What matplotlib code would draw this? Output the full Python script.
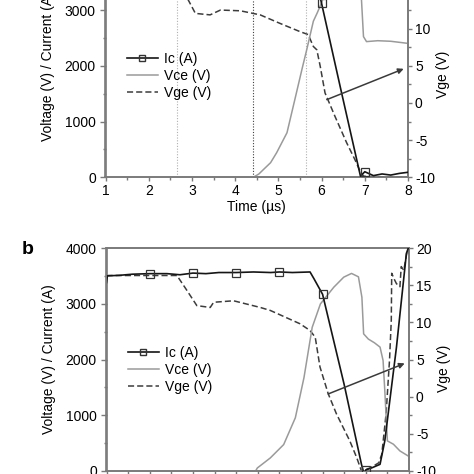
import numpy as np
import matplotlib
matplotlib.use("Agg")
import matplotlib.pyplot as plt
from matplotlib.ticker import MultipleLocator
from matplotlib.lines import Line2D

plt.rcParams['font.family'] = ['Liberation Sans', 'DejaVu Sans']
plt.rcParams['font.size'] = 10

# ---------------- data: panel a ----------------
a_ic_t = [1.0, 1.5, 2, 2.5, 3, 3.5, 4, 4.5, 5, 5.5, 5.88, 6.0, 6.45, 6.9, 6.95, 7.0, 7.2, 7.4, 7.6, 7.8, 8.0]
a_ic = [3500, 3530, 3520, 3510, 3540, 3520, 3530, 3520, 3540, 3530, 3520, 3120, 1560, 20, 60, 100, 30, 60, 40, 70, 90]

a_vce_t = [1, 4.42, 4.55, 4.66, 4.82, 4.96, 5.2, 5.38, 5.55, 5.66, 5.81, 5.9, 6.01, 6.2, 6.4, 6.6,
           6.8, 6.88, 6.97, 7.04, 7.3, 7.6, 7.97, 8.0]
a_vce = [0, 0, 60, 143, 262, 441, 800, 1390, 1950, 2300, 2800, 2950, 3150, 3600, 3900, 4100,
         4000, 3800, 2523, 2434, 2450, 2440, 2405, 2400]

a_vge_t = [1, 2.65, 2.8, 2.92, 3.08, 3.42, 3.66, 4.12, 4.58, 5.04, 5.5, 5.69, 5.81, 5.89, 5.97,
           6.08, 6.31, 6.58, 6.77, 6.89, 6.97, 7.5, 8.0]
a_vge = [16.2, 16.2, 15.0, 13.8, 12.05, 11.85, 12.5, 12.4, 11.85, 10.7, 9.6, 9.2, 7.6, 7.15, 4.9,
         1.35, -1.8, -5.35, -7.6, -9.15, -9.85, -10, -10]

a_vlines = [2.65, 4.42, 5.65]

# ---------------- data: panel b ----------------
b_ic_t = [1.0, 1.02, 1.3, 1.6, 2, 2.4, 2.7, 3, 3.3, 3.6, 4, 4.4, 4.8, 5, 5.3, 5.71, 5.8, 6.0,
          6.5, 6.9, 6.96, 7.0, 7.15, 7.33, 7.44, 7.71, 7.94, 7.98]
b_ic = [3380, 3500, 3510, 3530, 3540, 3540, 3520, 3550, 3540, 3560, 3560, 3570, 3560, 3570, 3560,
        3570, 3450, 3170, 1550, 120, -60, 20, 60, 120, 540, 2222, 3904, 3990]

b_vce_t = [1, 4.45, 4.49, 4.79, 5.1, 5.37, 5.57, 5.76, 5.95, 6.26, 6.49, 6.67, 6.83, 6.91, 6.95,
           7.06, 7.2, 7.33, 7.40, 7.44, 7.50, 7.64, 7.79, 7.98, 8.0]
b_vce = [0, 0, 54, 234, 474, 955, 1676, 2577, 2997, 3297, 3477, 3544, 3483, 3117, 2460,
         2366, 2300, 2222, 1982, 1441, 540, 480, 360, 270, 260]

b_vge_t = [1, 2.63, 2.86, 3.09, 3.4, 3.48, 3.94, 4.56, 4.79, 5.48, 5.71, 5.83, 5.94, 6.13, 6.32,
           6.63, 6.79, 6.90, 7.1, 7.3, 7.37, 7.47, 7.55, 7.59, 7.60, 7.65, 7.71, 7.79, 7.82, 7.88,
           7.96, 8.0]
b_vge = [16.3, 16.3, 14.3, 12.25, 12.0, 12.7, 12.9, 12.0, 11.6, 9.8, 8.9, 8.0, 4.0, 0.4, -2.3,
         -5.95, -8.2, -10, -9.6, -8.9, -7.75, -2.3, 5.0, 10.25, 16.6, 15.9, 15.2, 14.8, 17.5, 17.0,
         19.7, 19.25]

marker_times = [2, 3, 4, 5, 6, 7]
arrow_a = [(6.12, 1393), (7.9, 1946)]
arrow_b = [(6.13, 1382), (7.9, 1930)]

legend_labels = ["Ic (A)", "Vce (V)", "Vge (V)"]
x_ticks = [1, 2, 3, 4, 5, 6, 7, 8]
a_left_ticks = [0, 1000, 2000, 3000]
a_right_ticks = [-10, -5, 0, 5, 10]
b_left_ticks = [0, 1000, 2000, 3000, 4000]
b_right_ticks = [-10, -5, 0, 5, 10, 15, 20]

# ---------------- figure ----------------
fig = plt.figure(figsize=(4.74, 4.74), dpi=100)
W = H = 474.0
SPINE = '#7a7a7a'
IC_C = '#151515'
VCE_C = '#9a9a9a'
VGE_C = '#3c3c3c'
FS = 10


def make_panel(left_px, right_px, zero_px, ic_t, ic, vce_t, vce, vge_t, vge, arrow,
               left_ticks, right_ticks, vlines=None, show_xlabels=True):
    height_px = 223.0
    ax = fig.add_axes([left_px / W, (H - zero_px) / H, (right_px - left_px) / W, height_px / H])
    ax2 = ax.twinx()
    ax.set_xlim(1, 8)
    ax.set_ylim(0, 4000)
    ax2.set_ylim(-10, 20)
    ax.set_zorder(ax2.get_zorder() + 1)
    ax.patch.set_visible(False)

    if vlines:
        cols = ['#b0b0b0', '#404040', '#b0b0b0']
        for xv, c in zip(vlines, cols):
            ax.axvline(xv, color=c, lw=0.8, ls=(0, (1, 1.5)), zorder=1)

    idx = [i for i, t in enumerate(ic_t) if t in marker_times]
    ax.plot(vce_t, vce, color=VCE_C, lw=1.1, zorder=2)
    ax2.plot(vge_t, vge, color=VGE_C, lw=1.1, ls=(0, (4, 2)), zorder=3)
    ax.plot(ic_t, ic, color=IC_C, lw=1.2, marker='s', markevery=idx, ms=6,
            mfc='none', mec='#333333', mew=0.9, zorder=4)

    ax.annotate('', xy=arrow[1], xytext=arrow[0],
                arrowprops=dict(arrowstyle='-|>', color='#3a3a3a', lw=1.1,
                                mutation_scale=8, shrinkA=0, shrinkB=0), zorder=5)

    for a in (ax, ax2):
        for s in a.spines.values():
            s.set_color(SPINE)
            s.set_linewidth(1.2)
    ax.set_xticks(x_ticks)
    ax.xaxis.set_minor_locator(MultipleLocator(0.5))
    ax.set_yticks(left_ticks)
    ax.yaxis.set_minor_locator(MultipleLocator(500))
    ax2.set_yticks(right_ticks)
    ax2.set_yticklabels([str(v) for v in right_ticks])
    ax2.yaxis.set_minor_locator(MultipleLocator(2.5))
    ax.tick_params(axis='y', which='major', direction='out', length=4, width=1, color=SPINE,
                   pad=3, labelsize=FS)
    ax.tick_params(axis='y', which='minor', direction='out', length=2.5, width=1, color=SPINE)
    ax.tick_params(axis='x', which='major', direction='out', length=3, width=1, color=SPINE,
                   pad=1.5, labelsize=FS, labelbottom=show_xlabels)
    ax.tick_params(axis='x', which='minor', direction='out', length=2, width=1, color=SPINE)
    ax2.tick_params(axis='y', which='major', direction='out', length=3, width=1, color=SPINE,
                    pad=2, labelsize=FS)
    ax2.tick_params(axis='y', which='minor', direction='out', length=2, width=1, color=SPINE)

    ax.set_ylabel('Voltage (V) / Current (A)', fontsize=FS)
    ax.yaxis.set_label_coords(-0.167, 0.5)
    ax2.set_ylabel('Vge (V)', fontsize=FS)
    ax2.yaxis.set_label_coords(1.093, 0.462)
    if show_xlabels:
        ax.set_xlabel('Time (\u00b5s)', fontsize=FS)
        ax.xaxis.set_label_coords(0.5, -0.102)

    handles = [Line2D([0, 0.5, 1], [0, 0, 0], color=IC_C, lw=1.2, marker='s', ms=5, mfc='none',
                      mec='#333333', markevery=[1]),
               Line2D([], [], color=VCE_C, lw=1.1),
               Line2D([], [], color=VGE_C, lw=1.1, ls=(0, (4, 2)))]
    ax.legend(handles, legend_labels, loc='center left', bbox_to_anchor=(0.071, 0.454),
              frameon=False, borderpad=0, borderaxespad=0, handlelength=2.2,
              handletextpad=0.45, labelspacing=0.22, fontsize=FS, numpoints=1)
    return ax, ax2


make_panel(105.5, 408.0, 177.3, a_ic_t, a_ic, a_vce_t, a_vce, a_vge_t, a_vge, arrow_a,
           a_left_ticks, a_right_ticks, vlines=a_vlines)
make_panel(106.5, 409.0, 471.0, b_ic_t, b_ic, b_vce_t, b_vce, b_vge_t, b_vge, arrow_b,
           b_left_ticks, b_right_ticks, show_xlabels=False)

fig.text(21.7 / W, (H - 253.7) / H, 'b', fontsize=14, fontweight='bold', ha='left', va='baseline')

fig.savefig('out.png', dpi=100)
